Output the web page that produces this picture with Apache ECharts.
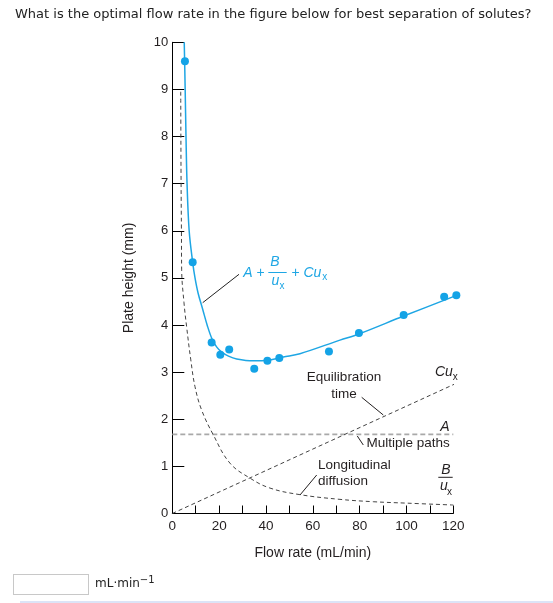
<!DOCTYPE html>
<html>
<head>
<meta charset="utf-8">
<script src="https://cdn.jsdelivr.net/npm/echarts@6/dist/echarts.min.js"></script>
<style>
html,body{margin:0;padding:0;background:#fff;}
#chart{position:absolute;left:0;top:0;width:553px;height:603px;}
#box{position:absolute;left:13px;top:574px;width:74px;height:19px;border:1px solid #c8c8c8;background:#fff;}
#unit{position:absolute;left:95px;top:577px;font:12px 'DejaVu Sans';color:#222;line-height:12px;}
#unit sup{font-size:10px;position:relative;top:-2px;vertical-align:top;line-height:10px;}
#bar{position:absolute;left:20px;right:0;top:601px;height:2px;background:#dce4f7;}
</style>
</head>
<body>
<div id="chart"></div>
<div id="box"></div>
<div id="unit">mL·min<sup>−1</sup></div>
<div id="bar"></div>
<script>
// Measured plate height (points)
const measuredFlow   = [5.4, 8.7, 16.8, 20.5, 24.3, 35.0, 40.6, 45.7, 66.9, 79.7, 98.8, 116.1, 121.3];
const measuredHeight = [9.6, 5.33, 3.63, 3.37, 3.48, 3.07, 3.24, 3.30, 3.44, 3.83, 4.21, 4.60, 4.63];

// Fitted van Deemter curve A + B/u + Cu
const fitFlow   = [5.1, 5.5, 5.85, 6.3, 7.2, 8.7, 9.7, 11, 13, 15, 17, 19, 21, 24, 27.5, 34.6, 41.7, 47.4, 54.5, 71.6, 79.7, 98.8, 121];
const fitHeight = [10, 9, 8, 7, 6, 5.33, 5.0, 4.68, 4.33, 3.98, 3.7, 3.53, 3.43, 3.34, 3.28, 3.24, 3.26, 3.32, 3.39, 3.68, 3.81, 4.19, 4.62];

// B/u term (longitudinal diffusion)
const bFlow   = [3.6, 3.75, 3.9, 4.0, 5.0, 6.1, 7.9, 9.7, 12.5, 17.5, 24.6, 33.2, 41.7, 54.5, 71.6, 85.8, 100, 120];
const bHeight = [8.95, 7, 6, 5.17, 4.47, 3.97, 3.26, 2.69, 2.2, 1.67, 1.07, 0.75, 0.54, 0.4, 0.3, 0.25, 0.22, 0.18];

// A term (multiple paths) and Cu term (equilibration time)
const aFlow = [0, 120];
const aHeight = [1.68, 1.68];
const cFlow = [0, 120.7];
const cHeight = [0, 2.75];

const zip = (xs, ys) => xs.map((x, i) => [x, ys[i]]);

const FONT = "'Liberation Sans', Arial, sans-serif";
const BLUE = '#1ea6e4';
const DARK = '#231f20';

function txt(x, y, text, opt) {
  opt = opt || {};
  return {
    type: 'text', x: x, y: y, z: 100,
    style: {
      text: text,
      fill: opt.fill || DARK,
      font: (opt.italic ? 'italic ' : '') + (opt.size || 13.5) + 'px ' + FONT,
      align: opt.align || 'left',
      verticalAlign: 'middle'
    }
  };
}
function ln(x1, y1, x2, y2, color, w) {
  return { type: 'line', z: 100, shape: {x1, y1, x2, y2}, style: {stroke: color || DARK, lineWidth: w || 1} };
}

const chart = echarts.init(document.getElementById('chart'), null, {renderer: 'canvas'});
chart.setOption({
  animation: false,
  backgroundColor: '#fff',
  title: {
    text: 'What is the optimal flow rate in the figure below for best separation of solutes?',
    left: 15, top: 8, padding: 0,
    textStyle: {fontSize: 13, fontFamily: "'DejaVu Sans', Verdana, sans-serif", fontWeight: 'normal', color: '#222'}
  },
  grid: {left: 172.3, right: 99.7, top: 42.3, bottom: 89.5, containLabel: false},
  xAxis: {
    type: 'value', min: 0, max: 120, interval: 20,
    name: 'Flow rate (mL/min)', nameLocation: 'middle', nameGap: 33,
    nameTextStyle: {fontSize: 14, fontFamily: FONT, color: DARK},
    axisLine: {show: true, onZero: false, lineStyle: {color: '#000', width: 1}},
    axisTick: {show: true, inside: true, length: 8, lineStyle: {color: '#000'}},
    minorTick: {show: true, splitNumber: 2, length: 8, lineStyle: {color: '#000'}},
    axisLabel: {fontSize: 13.5, fontFamily: FONT, color: DARK, margin: 6},
    splitLine: {show: false}, minorSplitLine: {show: false}
  },
  yAxis: {
    type: 'value', min: 0, max: 10, interval: 1,
    name: 'Plate height (mm)', nameLocation: 'middle', nameGap: 36,
    nameTextStyle: {fontSize: 14, fontFamily: FONT, color: DARK},
    axisLine: {show: true, onZero: false, lineStyle: {color: '#000', width: 1}},
    axisTick: {show: true, inside: true, length: 12, lineStyle: {color: '#000'}},
    axisLabel: {fontSize: 13, fontFamily: FONT, color: DARK, margin: 4},
    splitLine: {show: false}
  },
  series: [
    {
      type: 'line', name: 'A', data: zip(aFlow, aHeight), showSymbol: false, clip: false,
      lineStyle: {color: '#a9a9a9', width: 1.6, type: [5, 3]}, z: 1
    },
    {
      type: 'line', name: 'Cu', data: zip(cFlow, cHeight), showSymbol: false, clip: false,
      lineStyle: {color: '#444', width: 1, type: [4, 3]}, z: 2
    },
    {
      type: 'line', name: 'B/u', data: zip(bFlow, bHeight), showSymbol: false, clip: false, smooth: 0.4,
      lineStyle: {color: '#444', width: 1, type: [4, 3]}, z: 2
    },
    {
      type: 'line', name: 'fit', data: zip(fitFlow, fitHeight), showSymbol: false, clip: false, smooth: 0.35,
      lineStyle: {color: BLUE, width: 1.5}, z: 3
    },
    {
      type: 'scatter', name: 'measured', data: zip(measuredFlow, measuredHeight), clip: false,
      symbolSize: 8, itemStyle: {color: '#14a3e6', opacity: 1}, z: 4
    }
  ],
  graphic: [
    // fitted-curve label
    ln(202.7, 302.7, 239, 274.3, '#222', 1),
    txt(243.3, 273, 'A', {fill: BLUE, italic: true, size: 14}),
    txt(256.5, 273, '+', {fill: BLUE, size: 14}),
    txt(275, 262, 'B', {fill: BLUE, italic: true, size: 14, align: 'center'}),
    ln(268.3, 272.5, 286.7, 272.5, BLUE, 1),
    txt(271.5, 281.5, 'u', {fill: BLUE, italic: true, size: 14}),
    txt(279.5, 286, 'x', {fill: BLUE, size: 10}),
    txt(291.5, 273, '+', {fill: BLUE, size: 14}),
    txt(303.5, 273, 'Cu', {fill: BLUE, italic: true, size: 14}),
    txt(322.3, 277.5, 'x', {fill: BLUE, size: 10}),
    // equilibration time
    txt(344, 377, 'Equilibration', {align: 'center'}),
    txt(344, 394, 'time', {align: 'center'}),
    ln(361.7, 397.3, 383.3, 415),
    txt(435, 372, 'Cu', {italic: true, size: 14}),
    txt(452.7, 377, 'x', {size: 10}),
    // multiple paths
    txt(445, 427, 'A', {italic: true, size: 14, align: 'center'}),
    txt(366.5, 443.5, 'Multiple paths'),
    ln(357.3, 436, 363.3, 445),
    // longitudinal diffusion
    txt(318, 465.5, 'Longitudinal'),
    txt(318, 481.5, 'diffusion'),
    ln(300, 495, 316.7, 475),
    txt(446, 470.5, 'B', {italic: true, size: 14, align: 'center'}),
    ln(438.3, 477.3, 452.7, 477.3, DARK, 1),
    txt(440, 486.5, 'u', {italic: true, size: 14}),
    txt(447, 492.5, 'x', {size: 10})
  ]
});
</script>
</body>
</html>
